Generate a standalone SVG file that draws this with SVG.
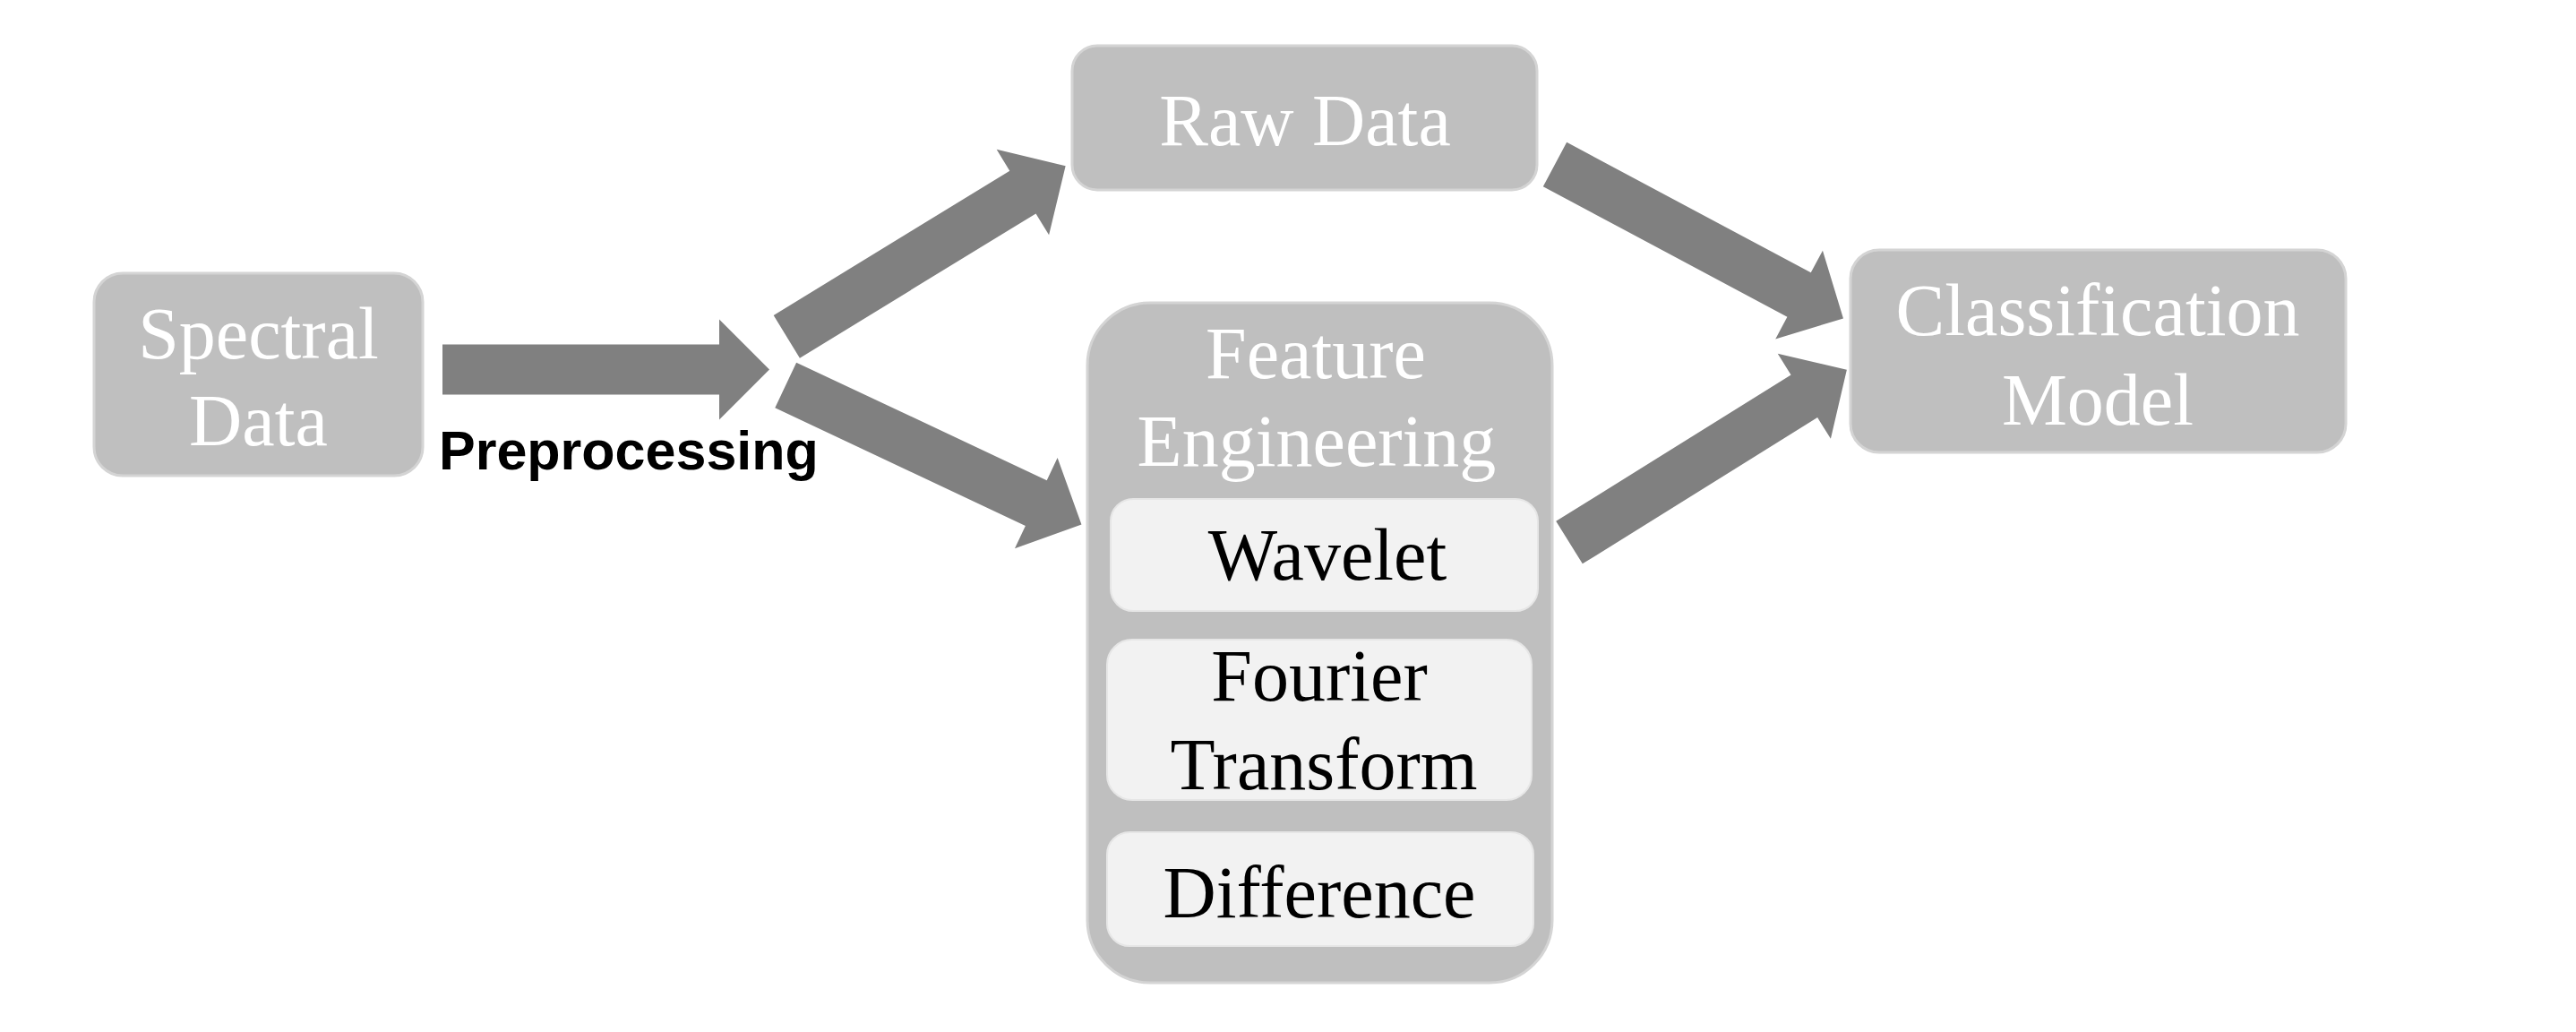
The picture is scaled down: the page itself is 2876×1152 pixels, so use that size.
<svg xmlns="http://www.w3.org/2000/svg" xmlns:xlink="http://www.w3.org/1999/xlink" width="2876" height="1152" viewBox="0 0 2876 1152">
<style>
.box{fill:#bfbfbf;stroke:#d4d4d4;stroke-width:3}
.sub{fill:#f2f2f2;stroke:#e6e6e6;stroke-width:2}
.wt{font-family:"Liberation Serif","Times New Roman",serif;font-size:82px;fill:#ffffff;text-anchor:middle}
.bt{font-family:"Liberation Serif","Times New Roman",serif;font-size:82px;fill:#000000;text-anchor:middle}
.lbl{font-family:"Liberation Sans",Arial,sans-serif;font-size:61px;font-weight:bold;fill:#000000}
.arr{fill:#808080}
</style>
<defs>
<path id="arr" d="M0,-28 H309 V-56 L365,0 L309,56 V28 H0 Z"/>
</defs>
<rect width="2876" height="1152" fill="#ffffff"/>
<g id="connectors" class="arr">
<use xlink:href="#arr" href="#arr" transform="translate(494,412.5)"/>
<use xlink:href="#arr" href="#arr" transform="translate(878.3,375.8) rotate(-31.46)"/>
<use xlink:href="#arr" href="#arr" transform="translate(877.2,430) rotate(25.2)"/>
<use xlink:href="#arr" href="#arr" transform="translate(1736,183.5) rotate(28.1)"/>
<use xlink:href="#arr" href="#arr" transform="translate(1752,605.6) rotate(-31.9)"/>
<text class="lbl" x="490" y="524">Preprocessing</text>
</g>
<g id="spectral">
<rect class="box" x="105" y="305" width="367" height="226" rx="32"/>
<text class="wt" x="288.5" y="400">Spectral</text>
<text class="wt" x="288.5" y="497">Data</text>
</g>
<g id="raw">
<rect class="box" x="1197" y="51" width="519" height="161" rx="28"/>
<text class="wt" x="1457" y="162">Raw Data</text>
</g>
<g id="classification">
<rect class="box" x="2066" y="279" width="553" height="226" rx="32"/>
<text class="wt" x="2342" y="374" font-size="86">Classification</text>
<text class="wt" x="2342" y="474" font-size="86">Model</text>
</g>
<g id="feature">
<rect class="box" x="1214" y="338" width="519" height="759" rx="70"/>
<text class="wt" x="1469" y="422">Feature</text>
<text class="wt" x="1470" y="520">Engineering</text>
</g>
<g id="wavelet">
<rect class="sub" x="1240" y="557" width="477" height="125" rx="25"/>
<text class="bt" x="1482" y="647">Wavelet</text>
</g>
<g id="fourier">
<rect class="sub" x="1236" y="714" width="474" height="179" rx="28"/>
<text class="bt" x="1473" y="782">Fourier</text>
<text class="bt" x="1478" y="881" font-size="80">Transform</text>
</g>
<g id="difference">
<rect class="sub" x="1236" y="929" width="476" height="127" rx="25"/>
<text class="bt" x="1473" y="1024">Difference</text>
</g>
</svg>
